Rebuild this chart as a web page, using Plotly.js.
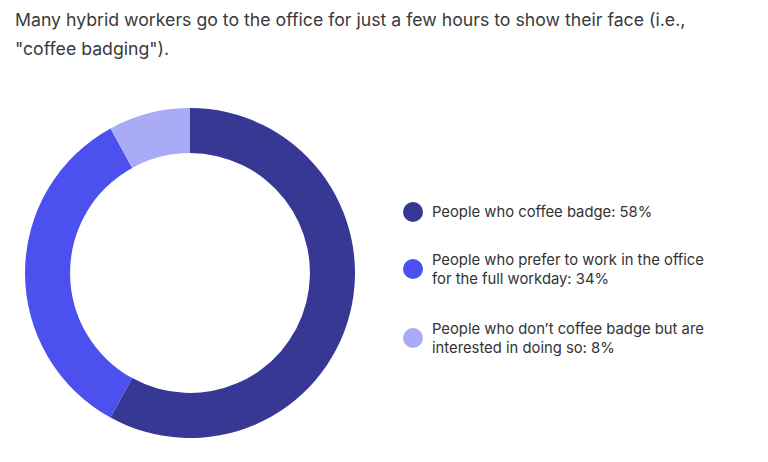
<!DOCTYPE html>
<html>
<head>
<meta charset="utf-8">
<script src="https://cdn.plot.ly/plotly-3.0.1.min.js"></script>
<style>html,body{margin:0;padding:0;background:#fff;}#chart{width:768px;height:462px;}</style>
</head>
<body>
<div id="chart"></div>
<script>
const titleLines = ["Many hybrid workers go to the office for just a few hours to show their face (i.e.,", "\"coffee badging\")."];
const categories = ["People who coffee badge", "People who prefer to work in the office for the full workday", "People who don\u2019t coffee badge but are interested in doing so"];
const legendLabels = ["People who coffee badge: 58%", "People who prefer to work in the office<br>for the full workday: 34%", "People who don\u2019t coffee badge but are<br>interested in doing so: 8%"];
const values = [58, 34, 8];
const colors = ["#363893", "#4B50EE", "#A9ABF7"];

const W = 768, H = 462;
const px = x => x / W;
const py = y => 1 - y / H;

const legendY = [212, 269, 338];
const shapes = [];
const annotations = [];
titleLines.forEach((t, i) => {
  annotations.push({xref:'paper', yref:'paper', x: px(13), y: py(20 + i*28), xanchor:'left', yanchor:'middle',
    text: t, showarrow:false, align:'left', font:{family:'Inter, "Open Sans", sans-serif', size:17.7, color:'#3a3a3a'}});
});
legendLabels.forEach((t, i) => {
  const cy = legendY[i];
  shapes.push({type:'circle', xref:'paper', yref:'paper', x0: px(403), x1: px(423), y0: py(cy-10), y1: py(cy+10),
    fillcolor: colors[i], line:{width:0}});
  annotations.push({xref:'paper', yref:'paper', x: px(430), y: py(cy), xanchor:'left', yanchor:'middle',
    text: t, showarrow:false, align:'left', font:{family:'Inter, "Open Sans", sans-serif', size:14.8, color:'#333333'}});
});

const data = [{
  type:'pie', labels: categories, values: values, hole: 0.727, sort:false, direction:'clockwise', rotation:0,
  marker:{colors: colors, line:{width:0}}, textinfo:'none', hoverinfo:'label+percent',
  domain:{x:[px(25), px(355)], y:[py(438), py(108)]}
}];
const layout = {
  width: W, height: H, margin:{l:0,r:0,t:0,b:0}, showlegend:false,
  paper_bgcolor:'#ffffff', plot_bgcolor:'#ffffff', shapes, annotations
};
Plotly.newPlot('chart', data, layout, {displayModeBar:false, staticPlot:true});
</script>
</body>
</html>
